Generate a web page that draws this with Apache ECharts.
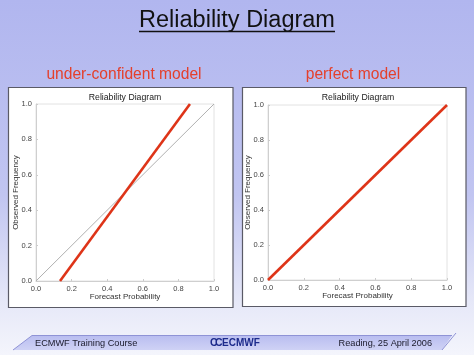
<!DOCTYPE html>
<html>
<head>
<meta charset="utf-8">
<script src="https://cdn.jsdelivr.net/npm/echarts@6/dist/echarts.min.js"></script>
<style>
html,body{margin:0;padding:0;background:#fff;}
#chart{width:474px;height:355px;}
</style>
</head>
<body>
<div id="chart"></div>
<script>
// ---- data ----
const axisTicks = [0.0, 0.2, 0.4, 0.6, 0.8, 1.0];
const diagonalX = [0, 1];
const diagonalY = [0, 1];
const underConfidentX = [0.135, 0.865];
const underConfidentY = [0, 1];
const perfectX = [0, 1];
const perfectY = [0, 1];

const mainTitle = 'Reliability Diagram';
const panelTitles = ['under-confident model', 'perfect model'];
const plotTitle = 'Reliability Diagram';
const xName = 'Forecast Probability';
const yName = 'Observed Frequency';
const footerLeft = 'ECMWF Training Course';
const footerRight = 'Reading, 25 April 2006';

function pairs(xs, ys) { return xs.map((x, i) => [x, ys[i]]); }

const FONT = '"Liberation Sans", Arial, sans-serif';
const RED = '#de3418';

const chart = echarts.init(document.getElementById('chart'), null, {renderer: 'canvas'});

function xAxis(gi) {
  return {
    type: 'value', gridIndex: gi, min: 0, max: 1, interval: 0.2,
    name: xName, nameLocation: 'middle', nameGap: 12, nameMoveOverlap: false,
    nameTextStyle: {fontFamily: FONT, fontSize: 8, color: '#333'},
    axisLine: {lineStyle: {color: '#cfcfcf', width: 1}},
    axisTick: {show: true, inside: true, length: 2, lineStyle: {color: '#ccc'}},
    splitLine: {show: false},
    axisLabel: {fontFamily: FONT, fontSize: 7.5, color: '#444', margin: 4,
      formatter: v => axisTicks.includes(+v.toFixed(1)) ? v.toFixed(1) : ''}
  };
}
function yAxis(gi) {
  return {
    type: 'value', gridIndex: gi, min: 0, max: 1, interval: 0.2,
    name: yName, nameLocation: 'middle', nameGap: 16, nameMoveOverlap: false,
    nameTextStyle: {fontFamily: FONT, fontSize: 8, color: '#333'},
    axisLine: {show: true, lineStyle: {color: '#cfcfcf', width: 1}},
    axisTick: {show: true, inside: true, length: 2, lineStyle: {color: '#ccc'}},
    splitLine: {show: false},
    axisLabel: {fontFamily: FONT, fontSize: 7.5, color: '#444', margin: 4,
      formatter: v => v.toFixed(1)}
  };
}

const grids = [
  {left: 36, top: 104, width: 178, height: 177},
  {left: 268, top: 105, width: 179, height: 175}
];

const option = {
  animation: false,
  backgroundColor: 'transparent',
  grid: grids.map(g => Object.assign({show: true, borderColor: '#e2e2e2', borderWidth: 1, backgroundColor: 'transparent'}, g)),
  xAxis: [xAxis(0), xAxis(1)],
  yAxis: [yAxis(0), yAxis(1)],
  series: [
    {type: 'line', xAxisIndex: 0, yAxisIndex: 0, data: pairs(diagonalX, diagonalY), showSymbol: false, silent: true,
      lineStyle: {color: '#b0b0b0', width: 1}},
    {type: 'line', xAxisIndex: 0, yAxisIndex: 0, data: pairs(underConfidentX, underConfidentY), showSymbol: false, silent: true,
      lineStyle: {color: RED, width: 2.6}},
    {type: 'line', xAxisIndex: 1, yAxisIndex: 1, data: pairs(diagonalX, diagonalY), showSymbol: false, silent: true,
      lineStyle: {color: '#b0b0b0', width: 1}},
    {type: 'line', xAxisIndex: 1, yAxisIndex: 1, data: pairs(perfectX, perfectY), showSymbol: false, silent: true,
      lineStyle: {color: RED, width: 2.6}}
  ],
  graphic: [
    // page background
    {type: 'rect', z: -20, shape: {x: 0, y: 0, width: 474, height: 355},
      style: {fill: new echarts.graphic.LinearGradient(0, 0, 0, 1, [
        {offset: 0, color: '#b1b6ef'},
        {offset: 0.55, color: '#c1c5f1'},
        {offset: 0.85, color: '#e6e8f8'},
        {offset: 1, color: '#f4f5fc'}
      ])}},
    // footer band
    {type: 'polygon', z: -15, shape: {points: [[32, 335.5], [452, 335.5], [442, 350], [13, 350]]},
      style: {fill: new echarts.graphic.LinearGradient(0, 0, 0, 1, [
        {offset: 0, color: '#b9bdf0'},
        {offset: 1, color: '#cfd2f5'}
      ])}},
    {type: 'line', z: -14, shape: {x1: 32, y1: 335.5, x2: 452, y2: 335.5}, style: {stroke: '#8f93d6', lineWidth: 1}},
    {type: 'line', z: -14, shape: {x1: 32, y1: 335.5, x2: 13, y2: 350}, style: {stroke: '#8f93d6', lineWidth: 1}},
    {type: 'line', z: -14, shape: {x1: 456, y1: 333, x2: 442, y2: 350}, style: {stroke: '#8f93d6', lineWidth: 1}},
    {type: 'text', z: 5, x: 35, y: 343, style: {text: footerLeft, fontFamily: FONT, fontSize: 9.2, fill: '#1a1a2a', textVerticalAlign: 'middle'}},
    {type: 'text', z: 5, x: 432, y: 343, style: {text: footerRight, fontFamily: FONT, fontSize: 9.2, fill: '#1a1a2a', textAlign: 'right', textVerticalAlign: 'middle'}},
    {type: 'text', z: 5, x: 210, y: 343, style: {text: 'C', fontFamily: FONT, fontSize: 10.5, fontWeight: 'bold', fill: '#1d2b8c', textVerticalAlign: 'middle'}},
    {type: 'text', z: 5, x: 215, y: 343, style: {text: 'C', fontFamily: FONT, fontSize: 10.5, fontWeight: 'bold', fill: '#1d2b8c', textVerticalAlign: 'middle'}},
    {type: 'text', z: 5, x: 222, y: 343, style: {text: 'ECMWF', fontFamily: FONT, fontSize: 10, fontWeight: 'bold', fill: '#1d2b8c', textVerticalAlign: 'middle'}},
    // main title
    {type: 'text', z: 5, x: 237, y: 21, style: {text: mainTitle, fontFamily: FONT, fontSize: 23.5, fill: '#111', textAlign: 'center', textVerticalAlign: 'middle'}},
    {type: 'line', z: 5, shape: {x1: 139, y1: 31.5, x2: 335, y2: 31.5}, style: {stroke: '#111', lineWidth: 1.3}},
    // panel subtitles
    {type: 'text', z: 5, x: 124, y: 75, style: {text: panelTitles[0], fontFamily: FONT, fontSize: 15.6, fill: '#e4402c', textAlign: 'center', textVerticalAlign: 'middle'}},
    {type: 'text', z: 5, x: 353, y: 75, style: {text: panelTitles[1], fontFamily: FONT, fontSize: 15.6, fill: '#e4402c', textAlign: 'center', textVerticalAlign: 'middle'}},
    // panels
    {type: 'rect', z: -10, shape: {x: 8.5, y: 87.5, width: 224.5, height: 220}, style: {fill: '#ffffff', stroke: '#5a5a66', lineWidth: 1.2}},
    {type: 'rect', z: -10, shape: {x: 242.5, y: 87.5, width: 223.5, height: 219}, style: {fill: '#ffffff', stroke: '#5a5a66', lineWidth: 1.2}},
    // plot titles
    {type: 'text', z: 5, x: 125, y: 98, style: {text: plotTitle, fontFamily: FONT, fontSize: 8.7, fill: '#222', textAlign: 'center', textVerticalAlign: 'middle'}},
    {type: 'text', z: 5, x: 358, y: 98, style: {text: plotTitle, fontFamily: FONT, fontSize: 8.7, fill: '#222', textAlign: 'center', textVerticalAlign: 'middle'}}
  ]
};
chart.setOption(option);
</script>
</body>
</html>
